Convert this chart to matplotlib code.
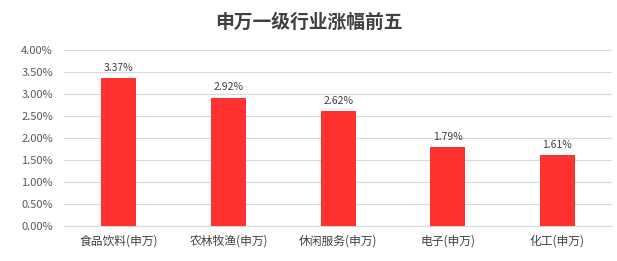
import matplotlib.pyplot as plt
from matplotlib.ticker import FuncFormatter

plt.rcParams['font.family'] = ['Noto Sans CJK SC', 'DejaVu Sans']

# 申万一级行业涨幅前五
categories = ['食品饮料(申万)', '农林牧渔(申万)', '休闲服务(申万)', '电子(申万)', '化工(申万)']
values = [3.37, 2.92, 2.62, 1.79, 1.61]
labels = ['3.37%', '2.92%', '2.62%', '1.79%', '1.61%']

fig = plt.figure(figsize=(6.17, 2.61), dpi=100)
ax = fig.add_axes([0.104, 0.134, 0.888, 0.674])

x = range(len(categories))
bars = ax.bar(x, values, width=0.32, color='#FF3131', zorder=3)

for b, lab in zip(bars, labels):
    ax.text(b.get_x() + b.get_width() / 2, b.get_height() + 0.12, lab,
            ha='center', va='bottom', fontsize=7.5, color='#404040')

ax.set_ylim(0, 4.0)
ax.set_xlim(-0.5, len(categories) - 0.5)
ax.set_yticks([i * 0.5 for i in range(9)])
ax.yaxis.set_major_formatter(FuncFormatter(lambda v, p: f'{v:.2f}%'))
ax.set_xticks(list(x))
ax.set_xticklabels(categories)
ax.tick_params(axis='y', length=0, labelsize=8, labelcolor='#595959', pad=8)
ax.tick_params(axis='x', length=0, labelsize=8.5, labelcolor='#404040', pad=6)
ax.grid(axis='y', color='#D9D9D9', linewidth=0.8, zorder=0)
for s in ['top', 'right', 'left']:
    ax.spines[s].set_visible(False)
ax.spines['bottom'].set_color('#D9D9D9')

fig.suptitle('申万一级行业涨幅前五', x=0.5, y=0.95, fontsize=13.5, fontweight='bold', color='#404040')

fig.savefig('out.png', dpi=100)
